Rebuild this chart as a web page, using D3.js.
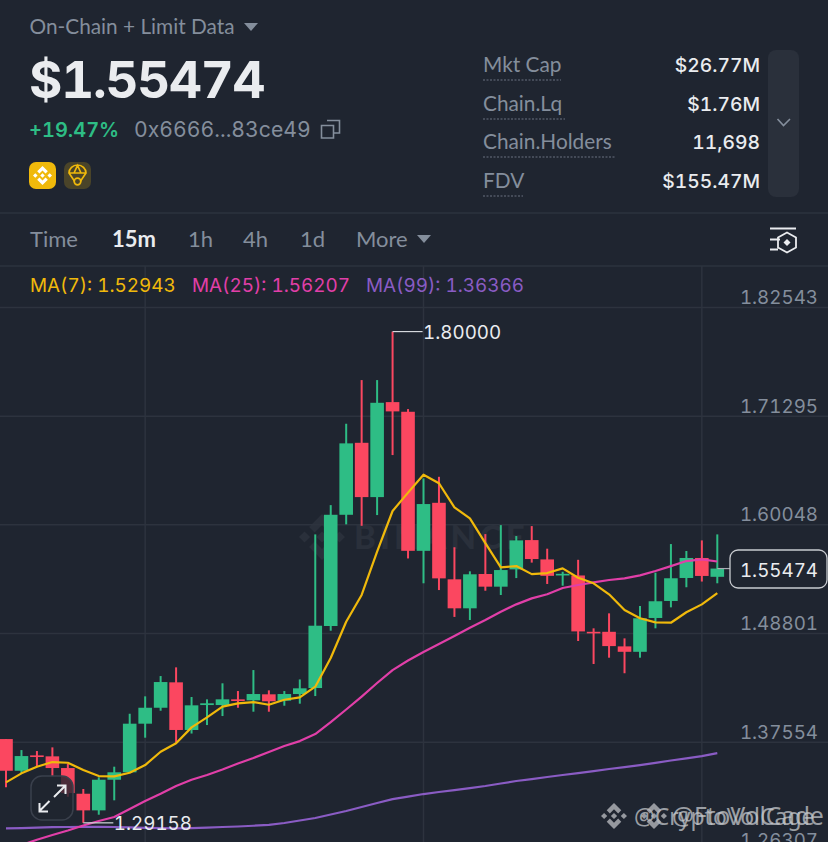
<!DOCTYPE html>
<html><head><meta charset="utf-8">
<style>html,body{margin:0;padding:0;background:#1f2530;overflow:hidden}svg{display:block}text{font-family:Lato,"Open Sans",sans-serif}text.n{font-family:Inter,Lato,sans-serif;font-variant-numeric:tabular-nums;font-feature-settings:"tnum" 1}</style>
<script src="https://cdnjs.cloudflare.com/ajax/libs/d3/7.8.5/d3.min.js"></script>
</head><body><svg id="c" width="828" height="842"></svg>
<script>
const priceTicks=[1.82543,1.71295,1.60048,1.48801,1.37554,1.26307];
const opens=[1.3783,1.3455,1.3614,1.3604,1.3483,1.3217,1.3045,1.3362,1.3439,1.3942,1.4107,1.4370,1.3877,1.4135,1.4135,1.4194,1.4184,1.4246,1.4180,1.4249,1.4311,1.4953,1.6104,1.6849,1.6287,1.7270,1.7170,1.5731,1.6228,1.5436,1.5136,1.5491,1.5360,1.5539,1.5842,1.5642,1.5476,1.5476,1.4893,1.4893,1.4742,1.4686,1.5036,1.5212,1.5450,1.5657,1.5462];
const closes=[1.3455,1.3607,1.3597,1.3483,1.3224,1.3045,1.3362,1.3439,1.3942,1.4107,1.4373,1.3877,1.4132,1.4153,1.4194,1.4177,1.4249,1.4174,1.4249,1.4308,1.4956,1.6104,1.6843,1.6287,1.7263,1.7174,1.5731,1.6215,1.5446,1.5136,1.5488,1.5360,1.5532,1.5839,1.5646,1.5472,1.5493,1.4897,1.4880,1.4745,1.4686,1.5033,1.5209,1.5447,1.5657,1.5471,1.55474];
const highs=[1.3783,1.3669,1.3659,1.3697,1.3525,1.3266,1.3387,1.3497,1.4045,1.4225,1.4435,1.4525,1.4218,1.4194,1.4360,1.4280,1.4497,1.4287,1.4280,1.4400,1.5901,1.6204,1.7046,1.7498,1.7498,1.80000,1.7198,1.6480,1.6497,1.5768,1.5519,1.5904,1.5997,1.5884,1.5987,1.5753,1.5514,1.5638,1.4929,1.5084,1.4825,1.5160,1.5505,1.5801,1.5729,1.5839,1.5901];
const lows=[1.3283,1.3431,1.3497,1.3400,1.3186,1.29158,1.3000,1.3149,1.3439,1.3797,1.4076,1.3745,1.3840,1.3928,1.4021,1.4107,1.4066,1.4066,1.4128,1.4149,1.4228,1.4904,1.6005,1.5990,1.6101,1.6722,1.5652,1.5395,1.5325,1.5047,1.5015,1.5318,1.5274,1.5449,1.5609,1.5388,1.5370,1.4798,1.4560,1.4625,1.4464,1.4625,1.4929,1.5146,1.5354,1.5413,1.5395];
const ma7=[1.3335,1.3428,1.3497,1.3545,1.3538,1.3462,1.3400,1.3397,1.3434,1.3514,1.3652,1.3739,1.3904,1.4008,1.4118,1.4153,1.4166,1.4138,1.4190,1.4215,1.4325,1.4622,1.4997,1.5274,1.5722,1.6143,1.6333,1.6519,1.6430,1.6181,1.6067,1.5811,1.5560,1.5573,1.5490,1.5501,1.5549,1.5452,1.5395,1.5281,1.5119,1.5033,1.4991,1.4987,1.5095,1.5177,1.52943];
const ma25=[1.2634,1.2686,1.2741,1.2790,1.2836,1.2888,1.2935,1.2976,1.3059,1.3142,1.3217,1.3297,1.3362,1.3411,1.3468,1.3530,1.3587,1.3649,1.3711,1.3762,1.3835,1.3959,1.4089,1.4223,1.4363,1.4497,1.4596,1.4684,1.4767,1.4849,1.4935,1.5015,1.5101,1.5177,1.5239,1.5281,1.5346,1.5377,1.5405,1.5429,1.5446,1.5477,1.5522,1.5573,1.5625,1.5643,1.56207];
const ma99=[1.2859,1.2862,1.2867,1.2871,1.2873,1.2875,1.2875,1.2873,1.2869,1.2864,1.2862,1.2859,1.2862,1.2867,1.2873,1.2878,1.2886,1.2895,1.2914,1.2940,1.2966,1.3002,1.3038,1.3080,1.3121,1.3162,1.3188,1.3214,1.3235,1.3255,1.3276,1.3297,1.3323,1.3349,1.3369,1.3390,1.3411,1.3431,1.3452,1.3473,1.3493,1.3514,1.3537,1.3561,1.3583,1.3607,1.36366];
const maLegend=[["MA(7): 1.52943",30,"#f0b90b"],["MA(25): 1.56207",192,"#e13fa8"],["MA(99): 1.36366",366,"#8a5cc4"]];
const stats=[["Mkt Cap","$26.77M",72,80,561],["Chain.Lq","$1.76M",111,119,565],["Chain.Holders","11,698",149,157,616],["FDV","$155.47M",188,196,523]];
const tabs=[["Time",30],["15m",112],["1h",188],["4h",243],["1d",300],["More",356]];
const lastPrice=1.55474, hiPrice=1.80000, loPrice=1.29158;

const BG="#1f2530",GRID="#2d333e",GREY="#848e9c",UP="#2ebd85",DOWN="#fb4760",WHITE="#eaecef";
const svg=d3.select("#c");
const idx=d3.range(opens.length);
const x=d3.scalePoint().domain(idx).range([6,717.3]);
const y=d3.scaleLinear().domain([1.26307,1.82543]).range([850.4,307]);

svg.append("g").selectAll("line").data([9,27,45]).join("line")
 .attr("x1",d=>x(d)).attr("x2",d=>x(d)).attr("y1",266).attr("y2",842).attr("stroke",GRID).attr("stroke-width",1.5);

function bnb(g,cx,cy,r,fill){
 const P=(a)=>"M"+a.map(p=>[cx+p[0]*r,cy+p[1]*r].join(",")).join("L")+"Z";
 const s=[[0,-.24],[.24,0],[0,.24],[-.24,0]];
 const d=[P(s),P(s.map(p=>[p[0]-.76,p[1]])),P(s.map(p=>[p[0]+.76,p[1]])),
  P([[0,-1],[.56,-.44],[.32,-.2],[0,-.52],[-.32,-.2],[-.56,-.44]]),
  P([[0,1],[.56,.44],[.32,.2],[0,.52],[-.32,.2],[-.56,.44]])].join("");
 return g.append("path").attr("d",d).attr("fill",fill);
}
bnb(svg,322,537,23,"#2a303b");
svg.append("text").attr("x",354).attr("y",549).attr("font-size",33).attr("font-weight",900).attr("letter-spacing",4).attr("fill","#2a303b").text("BINANCE");

const axis=d3.axisRight(y).tickValues(priceTicks).tickFormat(d3.format(".5f")).tickSize(828);
const ag=svg.append("g").call(axis);
ag.select(".domain").remove();
ag.selectAll(".tick line").attr("stroke",GRID).attr("stroke-width",1.5);
ag.selectAll(".tick text").attr("class","n").attr("x",818).attr("dy",-3.5).attr("text-anchor","end").attr("fill",GREY).attr("font-size",18.8).style("font-family","Inter");

const c=svg.append("g").selectAll("g").data(idx).join("g");
const col=i=>closes[i]>=opens[i]?UP:DOWN;
c.append("line").attr("x1",x).attr("x2",x).attr("y1",i=>y(highs[i])).attr("y2",i=>y(lows[i])).attr("stroke",col).attr("stroke-width",2);
c.append("rect").attr("x",i=>x(i)-6.8).attr("width",13.6)
 .attr("y",i=>y(Math.max(opens[i],closes[i]))).attr("height",i=>Math.max(1.6,Math.abs(y(opens[i])-y(closes[i])))).attr("fill",col);

const line=d3.line().x((d,i)=>x(i)).y(d=>y(d));
[[ma99,"#8a5cc4"],[ma25,"#e13fa8"],[ma7,"#f0b90b"]].forEach(([a,s])=>{
 svg.append("path").attr("d",line(a)).attr("fill","none").attr("stroke",s).attr("stroke-width",2.2).attr("stroke-linejoin","round");
});

function callout(i,p,txt){
 svg.append("line").attr("x1",x(i)).attr("x2",x(i)+30).attr("y1",y(p)).attr("y2",y(p)).attr("stroke","#d5d8dd").attr("stroke-width",1.2);
 svg.append("text").attr("class","n").attr("x",x(i)+30.5).attr("y",y(p)+7.500).attr("font-size",18.8).attr("fill",WHITE).text(txt);
}
callout(25,hiPrice,d3.format(".5f")(hiPrice));
callout(5,loPrice,d3.format(".5f")(loPrice));

svg.append("line").attr("x1",x(46)).attr("x2",730).attr("y1",y(lastPrice)).attr("y2",y(lastPrice)).attr("stroke","#a8acb3").attr("stroke-width",1.2);
svg.append("rect").attr("x",730).attr("y",550).attr("width",97).attr("height",38).attr("rx",8).attr("fill",BG).attr("stroke","#c8cbd0").attr("stroke-width",1.3);
svg.append("text").attr("class","n").attr("x",779).attr("y",576.5).attr("text-anchor","middle").attr("font-size",18.8).attr("fill",WHITE).text(d3.format(".5f")(lastPrice));

svg.append("rect").attr("x",31).attr("y",776).attr("width",42).attr("height",44).attr("rx",11).attr("fill",BG).attr("fill-opacity",.8).attr("stroke","#3a404c").attr("stroke-width",1.5);
svg.append("path").attr("d","M65,786L54,797M57,785.500H65.500V794M49.500,801L39.500,811M39.500,803V811.500H48").attr("fill","none").attr("stroke",WHITE).attr("stroke-width",2);

[[614,634,"@CryptoVolCage"],[654,672,"@FtoVolCade"]].forEach(([lx,tx,t],k)=>{
 bnb(svg,lx,816,13,"#b4b7bc").attr("fill-opacity",.8);
 svg.append("text").attr("x",tx).attr("y",825).attr("font-size",k?24.5:23).attr("fill","#c4c7cb").attr("fill-opacity",.75).style("font-family","Noto Sans").text(t);
});

svg.append("rect").attr("width",828).attr("height",266).attr("fill",BG);
svg.append("g").selectAll("line").data([213,266]).join("line").attr("x1",0).attr("x2",828).attr("y1",d=>d).attr("y2",d=>d).attr("stroke",GRID).attr("stroke-width",1.5);
svg.append("text").attr("x",29.5).attr("y",34).attr("font-size",20.8).attr("fill",GREY).text("On-Chain + Limit Data");
svg.append("path").attr("d","M244,23H258L251,31Z").attr("fill",GREY);
svg.append("text").attr("class","n").attr("x",29).attr("y",97.5).attr("font-size",51).attr("font-weight",700).attr("letter-spacing",-1.2).attr("fill",WHITE).text("$1.55474");
svg.append("text").attr("class","n").attr("x",29).attr("y",137).attr("font-size",20).attr("font-weight",600).attr("fill",UP).text("+19.47%");
svg.append("text").attr("class","n").attr("x",134).attr("y",137).attr("font-size",21.2).attr("fill",GREY).text("0x6666...83ce49");
svg.append("path").attr("d","M327,120.500H339.500V133H333M321.500,125.500H333.500V138H321.500Z").attr("fill","none").attr("stroke",GREY).attr("stroke-width",1.6);
svg.append("rect").attr("x",29).attr("y",162).attr("width",27).attr("height",27).attr("rx",7).attr("fill","#f0b90b");
bnb(svg,42.5,175.5,9.5,"#fff");
svg.append("rect").attr("x",64).attr("y",162).attr("width",27).attr("height",27).attr("rx",7).attr("fill","#4a4429");
svg.append("path").attr("d","M69,173A8.5,8,0,0,1,86,173L80,182H75ZM69,173H86M74,173L77.5,165.500L81,173").attr("fill","none").attr("stroke","#f0b90b").attr("stroke-width",1.7);
svg.append("circle").attr("cx",77.5).attr("cy",181.5).attr("r",3.300).attr("fill","#4a4429").attr("stroke","#f0b90b").attr("stroke-width",1.7);

const st=svg.append("g").selectAll("g").data(stats).join("g");
st.append("text").attr("x",483).attr("y",d=>d[2]).attr("font-size",20.8).attr("fill",GREY).text(d=>d[0]);
st.append("text").attr("class","n").attr("x",760).attr("y",d=>d[2]).attr("text-anchor","end").attr("font-size",19.3).attr("font-weight",500).attr("fill",WHITE).text(d=>d[1]);
st.append("line").attr("x1",483).attr("x2",d=>d[4]).attr("y1",d=>d[3]).attr("y2",d=>d[3]).attr("stroke","#6b7280").attr("stroke-width",1).attr("stroke-dasharray","2 1.5");
svg.append("rect").attr("x",768).attr("y",50).attr("width",31).attr("height",147).attr("rx",8).attr("fill","#2a303b");
svg.append("path").attr("d","M777.500,119L783.500,125.500L790,119").attr("fill","none").attr("stroke",GREY).attr("stroke-width",1.6);

svg.append("g").selectAll("text").data(tabs).join("text").attr("x",d=>d[1]).attr("y",247).attr("font-size",22)
 .attr("fill",d=>d[0]==="15m"?WHITE:GREY).attr("font-weight",d=>d[0]==="15m"?700:400).text(d=>d[0]);
svg.append("path").attr("d","M417,235H431L424,243Z").attr("fill",GREY);
svg.append("path").attr("d","M770,228.500H796M770,239.500H780M770,249.500H778M787,232.500L796,237.500V247.500L787,252.500L778,247.500V237.500Z").attr("fill","none").attr("stroke",WHITE).attr("stroke-width",1.8);
svg.append("path").attr("d","M787,239L790.500,242.500L787,246L783.500,242.500Z").attr("fill",WHITE);

svg.append("g").selectAll("text").data(maLegend).join("text").attr("class","n").attr("x",d=>d[1]).attr("y",292).attr("font-size",18.9).attr("fill",d=>d[2]).text(d=>d[0]);
</script></body></html>
